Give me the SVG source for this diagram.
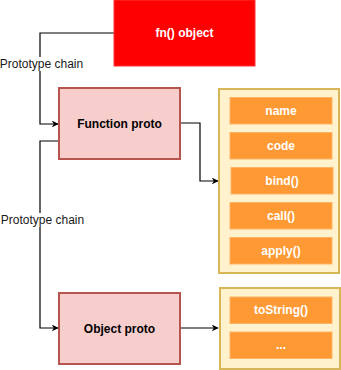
<svg xmlns="http://www.w3.org/2000/svg" width="341" height="370" viewBox="0 0 341 370">
<defs>
<marker id="arr" viewBox="0 0 10 10" refX="9" refY="5" markerWidth="7" markerHeight="7" markerUnits="userSpaceOnUse" orient="auto">
<path d="M0,0 L10,5 L0,10 L3,5 Z" fill="#000"/>
</marker>
<style>
text{font-family:"Liberation Sans",Arial,sans-serif;font-size:12px;text-anchor:middle;dominant-baseline:central}
.b{font-weight:bold}
.w{fill:#fff}
.proto{fill:#f8cecc;stroke:#b85450;stroke-width:2}
.cont{fill:#fff2cc;stroke:#d6b656;stroke-width:2}
.item{fill:#ff9933;stroke:#ffb366;stroke-width:1}
.edge{fill:none;stroke:#000;stroke-width:1.2;marker-end:url(#arr)}
.lbl{fill:#1a1a1a}
</style>
</defs>
<rect width="341" height="370" fill="#fff"/>
<g id="connectors">
<path class="edge" d="M114,33 H40 V124 H58"/>
<path class="edge" d="M59,141 H40 V328 H58"/>
<path class="edge" d="M180,123 H200 V181 H218"/>
<path class="edge" d="M180,328 H218"/>
<rect x="0" y="57" width="84" height="14" fill="#fff"/>
<text class="lbl" x="41.5" y="64">Prototype chain</text>
<rect x="1" y="213" width="84" height="14" fill="#fff"/>
<text class="lbl" x="42.5" y="220">Prototype chain</text>
</g>
<g id="fn-object">
<rect x="114" y="0" width="141" height="66" fill="#ff0000" stroke="#ff3333"/>
<text class="b w" x="184.5" y="33">fn() object</text>
</g>
<g id="function-proto">
<rect class="proto" x="59" y="88" width="121" height="71"/>
<text class="b" x="119.5" y="123.5" fill="#000">Function proto</text>
</g>
<g id="object-proto">
<rect class="proto" x="59" y="293" width="121" height="71"/>
<text class="b" x="119.5" y="328.5" fill="#000">Object proto</text>
</g>
<g id="function-members">
<rect class="cont" x="219" y="89" width="120" height="184"/>
<rect class="item" x="230" y="97.5" width="102" height="26.5"/>
<text class="b w" x="281" y="110.5">name</text>
<rect class="item" x="230" y="132.5" width="102" height="26.5"/>
<text class="b w" x="281" y="145.5">code</text>
<rect class="item" x="231" y="167.5" width="102" height="26.5"/>
<text class="b w" x="282" y="180.5">bind()</text>
<rect class="item" x="230" y="202.5" width="102" height="26.5"/>
<text class="b w" x="281" y="215.5">call()</text>
<rect class="item" x="230" y="237.5" width="102" height="26.5"/>
<text class="b w" x="281" y="250.5">apply()</text>
</g>
<g id="object-members">
<rect class="cont" x="220" y="288" width="120" height="81"/>
<rect class="item" x="230" y="297" width="102" height="26.5"/>
<text class="b w" x="281" y="310">toString()</text>
<rect class="item" x="230" y="332" width="102" height="26.5"/>
<text class="b w" x="281" y="345">...</text>
</g>
</svg>
